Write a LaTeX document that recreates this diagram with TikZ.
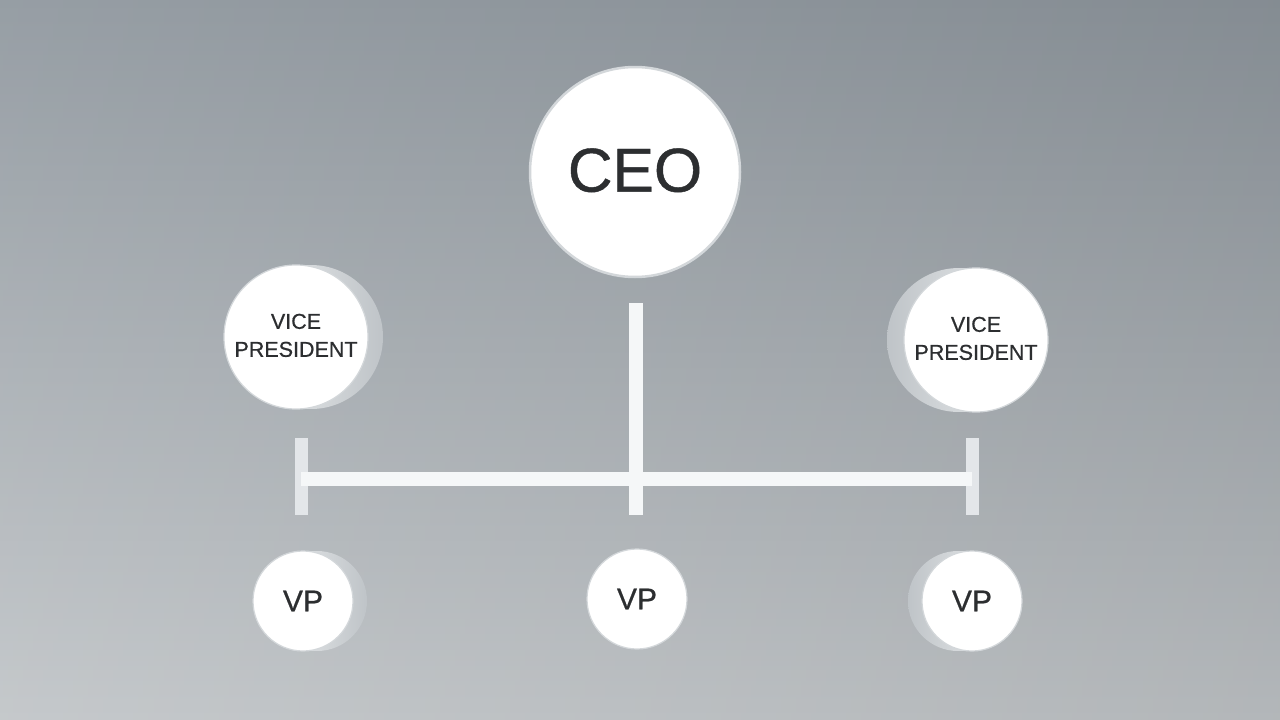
\documentclass[tikz,border=0pt]{standalone}
\usepackage{fontspec}
\setmainfont{Liberation Sans}
\newfontfamily\medfont[FakeBold=0.7]{Liberation Sans}
\definecolor{bgtop}{HTML}{8F979E}
\definecolor{bgmid}{HTML}{A4AAAF}
\definecolor{bgbot}{HTML}{C1C5C8}
\definecolor{sidelight}{HTML}{EDEFF0}
\definecolor{sidedark}{HTML}{BFC4C8}
\definecolor{faceedge}{HTML}{D3D7DA}
\definecolor{barcol}{HTML}{F5F7F8}
\definecolor{stubcol}{HTML}{E3E6E9}
\definecolor{txt}{HTML}{2C2E30}
\tikzset{
  face/.style={circle, fill=white, draw=faceedge, line width=1.2pt, inner sep=0pt, text=txt, align=center},
  ceobox/.style={face, minimum size=210pt, line width=2.5pt, draw=faceedge, font=\medfont\fontsize{62}{62}\selectfont},
  vpbig/.style={face, minimum size=144pt, font=\medfont\fontsize{21.5}{29}\selectfont},
  vpsmall/.style={face, minimum size=100pt, font=\medfont\fontsize{30}{30}\selectfont},
  bar/.style={line width=13.5pt, barcol},
  stub/.style={line width=13pt, stubcol},
}
\begin{document}
\begin{tikzpicture}[x=1pt,y=-1pt]
\useasboundingbox (0,0) rectangle (1280,720);
% background
\shade[top color=bgtop, middle color=bgmid, bottom color=bgbot] (0,0) rectangle (1280,720);
\shade[left color=white, right color=black, opacity=0.07] (0,0) rectangle (1280,720);

% cylinder sides
\shade[left color=sidelight, right color=sidedark] (311,337) circle (72);
\shade[left color=sidedark, right color=sidelight] (959,340) circle (72);
\shade[left color=sidelight, right color=sidedark] (317,601) circle (50);
\shade[left color=sidedark, right color=sidelight] (958,601) circle (50);

% nodes
\node[ceobox] (ceo) at (635,172) {\raisebox{4pt}{CEO}};
\node[vpbig] (vpl) at (296,337) {\raisebox{7pt}{\begin{tabular}{@{}c@{}}VICE\\[-1pt]PRESIDENT\end{tabular}}};
\node[vpbig] (vpr) at (976,340) {\raisebox{11pt}{\begin{tabular}{@{}c@{}}VICE\\[-1pt]PRESIDENT\end{tabular}}};
\node[vpsmall] (vp1) at (303,601) {VP};
\node[vpsmall] (vp2) at (637,599) {VP};
\node[vpsmall] (vp3) at (972,601) {VP};

% connector coordinates
\coordinate (stemTop) at (636,303);
\coordinate (stemBot) at (636,515);
\coordinate (barL) at (301,479);
\coordinate (barR) at (972,479);
\coordinate (stubLTop) at (301.5,438);
\coordinate (stubLBot) at (301.5,515);
\coordinate (stubRTop) at (972.5,438);
\coordinate (stubRBot) at (972.5,515);

% connectors
\draw[stub] (stubLTop) -- (stubLBot);
\draw[stub] (stubRTop) -- (stubRBot);
\draw[bar] (barL) -- (barR);
\draw[bar] (stemTop) -- (stemBot);
\end{tikzpicture}
\end{document}
